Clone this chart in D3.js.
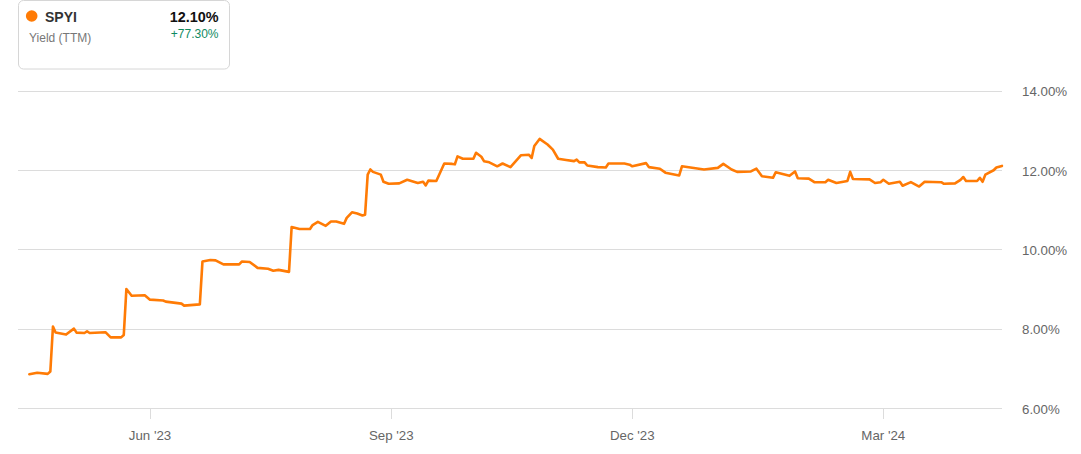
<!DOCTYPE html>
<html>
<head>
<meta charset="utf-8">
<script src="https://cdn.jsdelivr.net/npm/d3@7"></script>
<style>
  html, body { margin: 0; padding: 0; background: #fff; }
  svg { display: block; font-family: "Liberation Sans", Arial, sans-serif; }
</style>
</head>
<body>
<svg id="chart" width="1081" height="454"></svg>
<script>
// ---- data ----
const dates = [
  "2023-04-16","2023-04-19","2023-04-23","2023-04-24","2023-04-25","2023-04-26","2023-04-30",
  "2023-05-03","2023-05-04","2023-05-07","2023-05-08","2023-05-09","2023-05-15","2023-05-17",
  "2023-05-21","2023-05-22","2023-05-23","2023-05-25","2023-05-30",
  "2023-06-01","2023-06-06","2023-06-07","2023-06-13","2023-06-14","2023-06-20","2023-06-21",
  "2023-06-24","2023-06-26","2023-06-29",
  "2023-07-05","2023-07-06","2023-07-09","2023-07-12","2023-07-16","2023-07-18","2023-07-20",
  "2023-07-24","2023-07-25","2023-07-28",
  "2023-08-01","2023-08-02","2023-08-04","2023-08-07","2023-08-09","2023-08-11","2023-08-14",
  "2023-08-15","2023-08-17","2023-08-19","2023-08-21","2023-08-22","2023-08-23","2023-08-24",
  "2023-08-25","2023-08-28","2023-08-29","2023-08-31",
  "2023-09-04","2023-09-07","2023-09-11","2023-09-13","2023-09-14","2023-09-15","2023-09-18",
  "2023-09-21","2023-09-24","2023-09-25","2023-09-26","2023-09-28",
  "2023-10-02","2023-10-03","2023-10-05","2023-10-06","2023-10-08","2023-10-11","2023-10-13",
  "2023-10-16","2023-10-20","2023-10-23","2023-10-24","2023-10-25","2023-10-27","2023-10-30",
  "2023-11-01","2023-11-03","2023-11-06","2023-11-09","2023-11-10","2023-11-11","2023-11-13",
  "2023-11-14","2023-11-18","2023-11-21","2023-11-22","2023-11-28","2023-11-30",
  "2023-12-01","2023-12-06","2023-12-07","2023-12-11","2023-12-13","2023-12-18","2023-12-19",
  "2023-12-27",
  "2024-01-01","2024-01-03","2024-01-06","2024-01-08","2024-01-13","2024-01-15","2024-01-17",
  "2024-01-21","2024-01-22","2024-01-27","2024-01-29","2024-01-30",
  "2024-02-03","2024-02-05","2024-02-09","2024-02-10","2024-02-13","2024-02-17","2024-02-18",
  "2024-02-19","2024-02-25","2024-02-27","2024-02-29",
  "2024-03-01","2024-03-03","2024-03-07","2024-03-08","2024-03-11","2024-03-14","2024-03-16",
  "2024-03-22","2024-03-23","2024-03-27","2024-03-29","2024-03-30","2024-03-31",
  "2024-04-04","2024-04-05","2024-04-06","2024-04-07","2024-04-10","2024-04-11","2024-04-13"
];
const yields = [
  6.85, 6.89, 6.86, 6.92, 8.05, 7.90, 7.85,
  8.00, 7.90, 7.89, 7.93, 7.89, 7.91, 7.78,
  7.78, 7.84, 9.00, 8.83, 8.84,
  8.73, 8.71, 8.68, 8.63, 8.58, 8.61, 9.69,
  9.73, 9.72, 9.62,
  9.62, 9.69, 9.68, 9.53, 9.51, 9.46, 9.48,
  9.43, 10.56, 10.51,
  10.51, 10.61, 10.69, 10.59, 10.70, 10.70, 10.64,
  10.79, 10.93, 10.90, 10.85, 10.87, 11.88, 12.01,
  11.95, 11.88, 11.70, 11.65,
  11.66, 11.75, 11.67, 11.70, 11.61, 11.73, 11.72,
  12.16, 12.15, 12.14, 12.34, 12.28,
  12.28, 12.43, 12.33, 12.22, 12.19, 12.09, 12.16,
  12.07, 12.37, 12.38, 12.30, 12.60, 12.78, 12.64,
  12.51, 12.28, 12.25, 12.22, 12.26, 12.19, 12.19,
  12.11, 12.07, 12.06, 12.16, 12.16, 12.13,
  12.09, 12.17, 12.07, 12.03, 11.93, 11.86, 12.09,
  12.01,
  12.05, 12.15, 12.01, 11.95, 11.96, 12.03, 11.84,
  11.80, 11.94, 11.85, 11.96, 11.79,
  11.78, 11.69, 11.69, 11.75, 11.67, 11.72, 11.95,
  11.77, 11.76, 11.67, 11.69,
  11.75, 11.65, 11.70, 11.60, 11.69, 11.58, 11.70,
  11.69, 11.65, 11.66, 11.75, 11.82, 11.72,
  11.72, 11.80, 11.70, 11.88, 11.99, 12.06, 12.10
];
const yTicks = [6, 8, 10, 12, 14];
const xTickDates = ["2023-06-01", "2023-09-01", "2023-12-01", "2024-03-01"];
const xTickLabels = ["Jun '23", "Sep '23", "Dec '23", "Mar '24"];
const seriesName = "SPYI";
const seriesSub = "Yield (TTM)";
const lastValue = "12.10%";
const changeValue = "+77.30%";

// ---- drawing ----
const parse = d3.utcParse("%Y-%m-%d");
const data = dates.map((d, i) => ({ date: parse(d), value: yields[i] }));
const tickDates = xTickDates.map(parse);

const svg = d3.select("#chart");
const gridLeft = 18, gridRight = 1002;
const lineColor = "#ff7b05";

// x: time scale anchored on the quarterly tick dates
const x = d3.scaleUtc().domain(tickDates).range([150, 391.3, 632.3, 883.3]);
const y = d3.scaleLinear().domain([6, 14]).range([408, 90.5]);

// gridlines
svg.append("g").selectAll("line").data(yTicks).join("line")
  .attr("x1", gridLeft).attr("x2", gridRight)
  .attr("y1", d => Math.round(y(d)) + 0.5).attr("y2", d => Math.round(y(d)) + 0.5)
  .attr("stroke", "#dcdcdc").attr("stroke-width", 1);

// y labels
svg.append("g").selectAll("text").data(yTicks).join("text")
  .attr("x", 1022).attr("y", d => y(d) + 5.8)
  .attr("fill", "#666").attr("font-size", "13.3px")
  .text(d => d3.format(".2f")(d) + "%");

// x ticks and labels
const xg = svg.append("g");
xg.selectAll("line").data(tickDates).join("line")
  .attr("x1", d => Math.round(x(d)) + 0.5).attr("x2", d => Math.round(x(d)) + 0.5)
  .attr("y1", y(6)).attr("y2", 419)
  .attr("stroke", "#dcdcdc").attr("stroke-width", 1);
xg.selectAll("text").data(tickDates).join("text")
  .attr("x", d => x(d)).attr("y", 439.5)
  .attr("text-anchor", "middle")
  .attr("fill", "#666").attr("font-size", "13.3px")
  .text((d, i) => xTickLabels[i]);

// series line
const line = d3.line().x(d => x(d.date)).y(d => y(d.value)).curve(d3.curveLinear);
svg.append("path").datum(data)
  .attr("d", line)
  .attr("fill", "none")
  .attr("stroke", lineColor)
  .attr("stroke-width", 2.6)
  .attr("stroke-linejoin", "round")
  .attr("stroke-linecap", "round");

// legend box
const lg = svg.append("g");
lg.append("rect").attr("x", 18.5).attr("y", 0.5).attr("width", 211).attr("height", 68.5)
  .attr("rx", 5).attr("fill", "#fff").attr("stroke", "#d6d6d6");
lg.append("circle").attr("cx", 31.7).attr("cy", 16).attr("r", 5.8).attr("fill", lineColor);
lg.append("text").attr("x", 45).attr("y", 21.5)
  .attr("font-size", "14px").attr("font-weight", "bold").attr("fill", "#333")
  .text(seriesName);
lg.append("text").attr("x", 218.5).attr("y", 21.5).attr("text-anchor", "end")
  .attr("font-size", "14.4px").attr("font-weight", "bold").attr("fill", "#111")
  .text(lastValue);
lg.append("text").attr("x", 29).attr("y", 42)
  .attr("font-size", "12px").attr("fill", "#777")
  .text(seriesSub);
lg.append("text").attr("x", 218.5).attr("y", 38.3).attr("text-anchor", "end")
  .attr("font-size", "12px").attr("fill", "#0f8a5f")
  .text(changeValue);
</script>
</body>
</html>
